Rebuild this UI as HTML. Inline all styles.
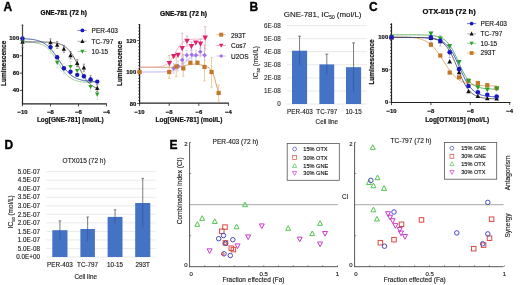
<!DOCTYPE html>
<html><head><meta charset="utf-8"><style>
html,body{margin:0;padding:0;background:#fff;}
body{width:520px;height:285px;overflow:hidden;}
svg{display:block;font-family:"Liberation Sans", sans-serif;will-change:transform;filter:blur(0.5px);}
</style></head><body>
<svg width="520" height="285" viewBox="0 0 520 285">
<rect width="520" height="285" fill="#fff"/>
<text x="3.4" y="10.9" font-size="12" font-weight="bold" fill="#000" stroke="#000" stroke-width="0.35">A</text>
<text x="249.6" y="11.1" font-size="12" font-weight="bold" fill="#000" stroke="#000" stroke-width="0.35">B</text>
<text x="369.0" y="11.2" font-size="12" font-weight="bold" fill="#000" stroke="#000" stroke-width="0.35">C</text>
<text x="4.6" y="149.1" font-size="12" font-weight="bold" fill="#000" stroke="#000" stroke-width="0.35">D</text>
<text x="169.6" y="148.9" font-size="12" font-weight="bold" fill="#000" stroke="#000" stroke-width="0.35">E</text>
<text x="40.60" y="15.30" font-size="6.5" font-weight="bold" text-anchor="start" fill="#000" stroke="#000" stroke-width="0.2">GNE-781 (72 h)</text>
<line x1="22.50" y1="24.50" x2="22.50" y2="104.40" stroke="#222" stroke-width="1.2"/>
<line x1="21.90" y1="103.80" x2="106.80" y2="103.80" stroke="#222" stroke-width="1.2"/>
<line x1="19.80" y1="38.40" x2="22.50" y2="38.40" stroke="#222" stroke-width="0.8"/>
<text x="19.20" y="40.40" font-size="5.9" font-weight="bold" text-anchor="end" fill="#111" stroke="#111" stroke-width="0.2">100</text>
<line x1="19.80" y1="55.75" x2="22.50" y2="55.75" stroke="#222" stroke-width="0.8"/>
<text x="19.20" y="57.75" font-size="5.9" font-weight="bold" text-anchor="end" fill="#111" stroke="#111" stroke-width="0.2">80</text>
<line x1="19.80" y1="73.10" x2="22.50" y2="73.10" stroke="#222" stroke-width="0.8"/>
<text x="19.20" y="75.10" font-size="5.9" font-weight="bold" text-anchor="end" fill="#111" stroke="#111" stroke-width="0.2">60</text>
<line x1="19.80" y1="90.45" x2="22.50" y2="90.45" stroke="#222" stroke-width="0.8"/>
<text x="19.20" y="92.45" font-size="5.9" font-weight="bold" text-anchor="end" fill="#111" stroke="#111" stroke-width="0.2">40</text>
<line x1="22.50" y1="103.80" x2="22.50" y2="106.40" stroke="#222" stroke-width="0.8"/>
<text x="22.50" y="114.20" font-size="5.9" font-weight="bold" text-anchor="middle" fill="#111" stroke="#111" stroke-width="0.2">−10</text>
<line x1="50.50" y1="103.80" x2="50.50" y2="106.40" stroke="#222" stroke-width="0.8"/>
<text x="50.50" y="114.20" font-size="5.9" font-weight="bold" text-anchor="middle" fill="#111" stroke="#111" stroke-width="0.2">−8</text>
<line x1="78.50" y1="103.80" x2="78.50" y2="106.40" stroke="#222" stroke-width="0.8"/>
<text x="78.50" y="114.20" font-size="5.9" font-weight="bold" text-anchor="middle" fill="#111" stroke="#111" stroke-width="0.2">−6</text>
<line x1="106.50" y1="103.80" x2="106.50" y2="106.40" stroke="#222" stroke-width="0.8"/>
<text x="106.50" y="114.20" font-size="5.9" font-weight="bold" text-anchor="middle" fill="#111" stroke="#111" stroke-width="0.2">−4</text>
<text x="70.30" y="121.80" font-size="6.5" font-weight="bold" text-anchor="middle" fill="#111" stroke="#111" stroke-width="0.2">Log[GNE-781] (mol/L)</text>
<text x="5.80" y="63.30" font-size="6.5" font-weight="bold" text-anchor="middle" fill="#111" stroke="#111" stroke-width="0.2" transform="rotate(-90 5.8 63.3)">Luminescence</text>
<path d="M22.50,41.99 L23.43,42.01 L24.37,42.03 L25.30,42.06 L26.24,42.09 L27.17,42.13 L28.11,42.17 L29.04,42.22 L29.98,42.28 L30.91,42.34 L31.85,42.42 L32.78,42.51 L33.71,42.62 L34.65,42.74 L35.58,42.88 L36.52,43.04 L37.45,43.23 L38.39,43.45 L39.32,43.70 L40.26,43.99 L41.19,44.32 L42.12,44.69 L43.06,45.13 L43.99,45.62 L44.93,46.17 L45.86,46.80 L46.80,47.51 L47.73,48.30 L48.67,49.18 L49.60,50.14 L50.53,51.20 L51.47,52.35 L52.40,53.59 L53.34,54.92 L54.27,56.32 L55.21,57.78 L56.14,59.30 L57.08,60.84 L58.01,62.41 L58.95,63.97 L59.88,65.51 L60.81,67.02 L61.75,68.47 L62.68,69.86 L63.62,71.17 L64.55,72.39 L65.49,73.52 L66.42,74.57 L67.36,75.52 L68.29,76.37 L69.23,77.15 L70.16,77.84 L71.09,78.45 L72.03,79.00 L72.96,79.47 L73.90,79.90 L74.83,80.26 L75.77,80.59 L76.70,80.87 L77.64,81.11 L78.57,81.32 L79.50,81.50 L80.44,81.66 L81.37,81.80 L82.31,81.92 L83.24,82.02 L84.18,82.11 L85.11,82.18 L86.05,82.25 L86.98,82.30 L87.92,82.35 L88.85,82.39 L89.78,82.43 L90.72,82.46 L91.65,82.48 L92.59,82.51 L93.52,82.53 L94.46,82.54 L95.39,82.56 L96.33,82.57 L97.26,82.58" fill="none" stroke="#8cc08c" stroke-width="0.8"/>
<path d="M22.50,41.87 L23.43,41.88 L24.37,41.88 L25.30,41.88 L26.24,41.88 L27.17,41.88 L28.11,41.88 L29.04,41.88 L29.98,41.89 L30.91,41.89 L31.85,41.89 L32.78,41.90 L33.71,41.90 L34.65,41.91 L35.58,41.91 L36.52,41.92 L37.45,41.93 L38.39,41.94 L39.32,41.95 L40.26,41.96 L41.19,41.97 L42.12,41.99 L43.06,42.01 L43.99,42.04 L44.93,42.06 L45.86,42.10 L46.80,42.13 L47.73,42.18 L48.67,42.23 L49.60,42.29 L50.53,42.35 L51.47,42.43 L52.40,42.53 L53.34,42.63 L54.27,42.76 L55.21,42.90 L56.14,43.07 L57.08,43.26 L58.01,43.49 L58.95,43.74 L59.88,44.04 L60.81,44.38 L61.75,44.78 L62.68,45.22 L63.62,45.74 L64.55,46.32 L65.49,46.98 L66.42,47.73 L67.36,48.57 L68.29,49.51 L69.23,50.55 L70.16,51.70 L71.09,52.96 L72.03,54.33 L72.96,55.81 L73.90,57.38 L74.83,59.05 L75.77,60.79 L76.70,62.59 L77.64,64.44 L78.57,66.30 L79.50,68.16 L80.44,70.00 L81.37,71.80 L82.31,73.53 L83.24,75.18 L84.18,76.74 L85.11,78.20 L86.05,79.56 L86.98,80.80 L87.92,81.93 L88.85,82.96 L89.78,83.88 L90.72,84.71 L91.65,85.44 L92.59,86.09 L93.52,86.66 L94.46,87.17 L95.39,87.61 L96.33,87.99 L97.26,88.33" fill="none" stroke="#444" stroke-width="0.8"/>
<path d="M22.50,38.67 L23.43,38.70 L24.37,38.74 L25.30,38.79 L26.24,38.85 L27.17,38.91 L28.11,38.98 L29.04,39.06 L29.98,39.15 L30.91,39.25 L31.85,39.37 L32.78,39.50 L33.71,39.65 L34.65,39.81 L35.58,40.00 L36.52,40.22 L37.45,40.46 L38.39,40.73 L39.32,41.04 L40.26,41.38 L41.19,41.76 L42.12,42.19 L43.06,42.67 L43.99,43.20 L44.93,43.79 L45.86,44.43 L46.80,45.15 L47.73,45.92 L48.67,46.77 L49.60,47.69 L50.53,48.68 L51.47,49.74 L52.40,50.87 L53.34,52.06 L54.27,53.31 L55.21,54.61 L56.14,55.96 L57.08,57.34 L58.01,58.74 L58.95,60.16 L59.88,61.57 L60.81,62.97 L61.75,64.35 L62.68,65.69 L63.62,66.99 L64.55,68.24 L65.49,69.42 L66.42,70.54 L67.36,71.60 L68.29,72.58 L69.23,73.49 L70.16,74.33 L71.09,75.10 L72.03,75.81 L72.96,76.45 L73.90,77.03 L74.83,77.55 L75.77,78.03 L76.70,78.45 L77.64,78.83 L78.57,79.17 L79.50,79.47 L80.44,79.74 L81.37,79.98 L82.31,80.19 L83.24,80.38 L84.18,80.54 L85.11,80.69 L86.05,80.82 L86.98,80.94 L87.92,81.04 L88.85,81.13 L89.78,81.20 L90.72,81.27 L91.65,81.33 L92.59,81.39 L93.52,81.43 L94.46,81.48 L95.39,81.51 L96.33,81.54 L97.26,81.57" fill="none" stroke="#34509a" stroke-width="0.9"/>
<line x1="50.50" y1="42.74" x2="50.50" y2="53.15" stroke="#b5dcb5" stroke-width="0.5"/>
<line x1="49.30" y1="42.74" x2="51.70" y2="42.74" stroke="#b5dcb5" stroke-width="0.5"/>
<line x1="49.30" y1="53.15" x2="51.70" y2="53.15" stroke="#b5dcb5" stroke-width="0.5"/>
<line x1="50.50" y1="38.83" x2="50.50" y2="45.77" stroke="#444" stroke-width="0.5"/>
<line x1="49.30" y1="38.83" x2="51.70" y2="38.83" stroke="#444" stroke-width="0.5"/>
<line x1="49.30" y1="45.77" x2="51.70" y2="45.77" stroke="#444" stroke-width="0.5"/>
<line x1="57.18" y1="57.48" x2="57.18" y2="67.89" stroke="#b5dcb5" stroke-width="0.5"/>
<line x1="55.98" y1="57.48" x2="58.38" y2="57.48" stroke="#b5dcb5" stroke-width="0.5"/>
<line x1="55.98" y1="67.89" x2="58.38" y2="67.89" stroke="#b5dcb5" stroke-width="0.5"/>
<line x1="57.18" y1="41.44" x2="57.18" y2="48.38" stroke="#444" stroke-width="0.5"/>
<line x1="55.98" y1="41.44" x2="58.38" y2="41.44" stroke="#444" stroke-width="0.5"/>
<line x1="55.98" y1="48.38" x2="58.38" y2="48.38" stroke="#444" stroke-width="0.5"/>
<line x1="63.86" y1="63.56" x2="63.86" y2="73.97" stroke="#b5dcb5" stroke-width="0.5"/>
<line x1="62.66" y1="63.56" x2="65.06" y2="63.56" stroke="#b5dcb5" stroke-width="0.5"/>
<line x1="62.66" y1="73.97" x2="65.06" y2="73.97" stroke="#b5dcb5" stroke-width="0.5"/>
<line x1="63.86" y1="45.34" x2="63.86" y2="52.28" stroke="#444" stroke-width="0.5"/>
<line x1="62.66" y1="45.34" x2="65.06" y2="45.34" stroke="#444" stroke-width="0.5"/>
<line x1="62.66" y1="52.28" x2="65.06" y2="52.28" stroke="#444" stroke-width="0.5"/>
<line x1="70.53" y1="61.56" x2="70.53" y2="71.97" stroke="#b5dcb5" stroke-width="0.5"/>
<line x1="69.33" y1="61.56" x2="71.73" y2="61.56" stroke="#b5dcb5" stroke-width="0.5"/>
<line x1="69.33" y1="71.97" x2="71.73" y2="71.97" stroke="#b5dcb5" stroke-width="0.5"/>
<line x1="70.53" y1="51.85" x2="70.53" y2="58.79" stroke="#444" stroke-width="0.5"/>
<line x1="69.33" y1="51.85" x2="71.73" y2="51.85" stroke="#444" stroke-width="0.5"/>
<line x1="69.33" y1="58.79" x2="71.73" y2="58.79" stroke="#444" stroke-width="0.5"/>
<line x1="77.21" y1="65.55" x2="77.21" y2="75.96" stroke="#b5dcb5" stroke-width="0.5"/>
<line x1="76.01" y1="65.55" x2="78.41" y2="65.55" stroke="#b5dcb5" stroke-width="0.5"/>
<line x1="76.01" y1="75.96" x2="78.41" y2="75.96" stroke="#b5dcb5" stroke-width="0.5"/>
<line x1="77.21" y1="59.65" x2="77.21" y2="66.59" stroke="#444" stroke-width="0.5"/>
<line x1="76.01" y1="59.65" x2="78.41" y2="59.65" stroke="#444" stroke-width="0.5"/>
<line x1="76.01" y1="66.59" x2="78.41" y2="66.59" stroke="#444" stroke-width="0.5"/>
<line x1="83.89" y1="71.37" x2="83.89" y2="81.78" stroke="#b5dcb5" stroke-width="0.5"/>
<line x1="82.69" y1="71.37" x2="85.09" y2="71.37" stroke="#b5dcb5" stroke-width="0.5"/>
<line x1="82.69" y1="81.78" x2="85.09" y2="81.78" stroke="#b5dcb5" stroke-width="0.5"/>
<line x1="83.89" y1="64.16" x2="83.89" y2="71.10" stroke="#444" stroke-width="0.5"/>
<line x1="82.69" y1="64.16" x2="85.09" y2="64.16" stroke="#444" stroke-width="0.5"/>
<line x1="82.69" y1="71.10" x2="85.09" y2="71.10" stroke="#444" stroke-width="0.5"/>
<line x1="90.57" y1="81.51" x2="90.57" y2="91.92" stroke="#b5dcb5" stroke-width="0.5"/>
<line x1="89.37" y1="81.51" x2="91.77" y2="81.51" stroke="#b5dcb5" stroke-width="0.5"/>
<line x1="89.37" y1="91.92" x2="91.77" y2="91.92" stroke="#b5dcb5" stroke-width="0.5"/>
<line x1="90.57" y1="75.70" x2="90.57" y2="82.64" stroke="#444" stroke-width="0.5"/>
<line x1="89.37" y1="75.70" x2="91.77" y2="75.70" stroke="#444" stroke-width="0.5"/>
<line x1="89.37" y1="82.64" x2="91.77" y2="82.64" stroke="#444" stroke-width="0.5"/>
<line x1="97.25" y1="89.15" x2="97.25" y2="99.56" stroke="#b5dcb5" stroke-width="0.5"/>
<line x1="96.05" y1="89.15" x2="98.45" y2="89.15" stroke="#b5dcb5" stroke-width="0.5"/>
<line x1="96.05" y1="99.56" x2="98.45" y2="99.56" stroke="#b5dcb5" stroke-width="0.5"/>
<line x1="97.25" y1="84.64" x2="97.25" y2="91.58" stroke="#444" stroke-width="0.5"/>
<line x1="96.05" y1="84.64" x2="98.45" y2="84.64" stroke="#444" stroke-width="0.5"/>
<line x1="96.05" y1="91.58" x2="98.45" y2="91.58" stroke="#444" stroke-width="0.5"/>
<path d="M22.50,44.17 L24.70,40.03 L20.30,40.03Z" fill="#2aa02a" stroke="none" stroke-width="0.7"/>
<path d="M50.50,50.24 L52.70,46.10 L48.30,46.10Z" fill="#2aa02a" stroke="none" stroke-width="0.7"/>
<path d="M57.18,64.99 L59.38,60.85 L54.98,60.85Z" fill="#2aa02a" stroke="none" stroke-width="0.7"/>
<path d="M63.86,71.06 L66.06,66.92 L61.66,66.92Z" fill="#2aa02a" stroke="none" stroke-width="0.7"/>
<path d="M70.53,69.07 L72.73,64.93 L68.33,64.93Z" fill="#2aa02a" stroke="none" stroke-width="0.7"/>
<path d="M77.21,73.06 L79.41,68.92 L75.01,68.92Z" fill="#2aa02a" stroke="none" stroke-width="0.7"/>
<path d="M83.89,78.87 L86.09,74.73 L81.69,74.73Z" fill="#2aa02a" stroke="none" stroke-width="0.7"/>
<path d="M90.57,89.02 L92.77,84.88 L88.37,84.88Z" fill="#2aa02a" stroke="none" stroke-width="0.7"/>
<path d="M97.25,96.65 L99.45,92.51 L95.05,92.51Z" fill="#2aa02a" stroke="none" stroke-width="0.7"/>
<path d="M22.50,39.57 L24.70,43.71 L20.30,43.71Z" fill="#111" stroke="none" stroke-width="0.7"/>
<path d="M50.50,40.00 L52.70,44.14 L48.30,44.14Z" fill="#111" stroke="none" stroke-width="0.7"/>
<path d="M57.18,42.61 L59.38,46.75 L54.98,46.75Z" fill="#111" stroke="none" stroke-width="0.7"/>
<path d="M63.86,46.51 L66.06,50.65 L61.66,50.65Z" fill="#111" stroke="none" stroke-width="0.7"/>
<path d="M70.53,53.02 L72.73,57.16 L68.33,57.16Z" fill="#111" stroke="none" stroke-width="0.7"/>
<path d="M77.21,60.82 L79.41,64.96 L75.01,64.96Z" fill="#111" stroke="none" stroke-width="0.7"/>
<path d="M83.89,65.33 L86.09,69.47 L81.69,69.47Z" fill="#111" stroke="none" stroke-width="0.7"/>
<path d="M90.57,76.87 L92.77,81.01 L88.37,81.01Z" fill="#111" stroke="none" stroke-width="0.7"/>
<path d="M97.25,85.81 L99.45,89.95 L95.05,89.95Z" fill="#111" stroke="none" stroke-width="0.7"/>
<circle cx="22.50" cy="38.40" r="2.2" fill="#1818c0" stroke="none" stroke-width="0.7"/>
<circle cx="50.50" cy="47.08" r="2.2" fill="#1818c0" stroke="none" stroke-width="0.7"/>
<circle cx="57.18" cy="57.22" r="2.2" fill="#1818c0" stroke="none" stroke-width="0.7"/>
<circle cx="63.86" cy="68.24" r="2.2" fill="#1818c0" stroke="none" stroke-width="0.7"/>
<circle cx="70.53" cy="71.71" r="2.2" fill="#1818c0" stroke="none" stroke-width="0.7"/>
<circle cx="77.21" cy="74.84" r="2.2" fill="#1818c0" stroke="none" stroke-width="0.7"/>
<circle cx="83.89" cy="76.31" r="2.2" fill="#1818c0" stroke="none" stroke-width="0.7"/>
<circle cx="90.57" cy="79.52" r="2.2" fill="#1818c0" stroke="none" stroke-width="0.7"/>
<circle cx="97.25" cy="81.60" r="2.2" fill="#1818c0" stroke="none" stroke-width="0.7"/>
<line x1="22.50" y1="25.40" x2="22.50" y2="47.20" stroke="#666" stroke-width="0.6"/>
<line x1="21.30" y1="25.40" x2="23.70" y2="25.40" stroke="#666" stroke-width="0.6"/>
<line x1="21.30" y1="47.20" x2="23.70" y2="47.20" stroke="#666" stroke-width="0.6"/>
<line x1="77.50" y1="30.40" x2="86.70" y2="30.40" stroke="#5560d0" stroke-width="0.8"/>
<circle cx="82.40" cy="30.40" r="1.9" fill="#1818c0" stroke="none" stroke-width="0.7"/>
<text x="91.60" y="32.70" font-size="6.5" text-anchor="start" fill="#111" stroke="#111" stroke-width="0.14">PER-403</text>
<line x1="77.50" y1="41.30" x2="86.70" y2="41.30" stroke="#999" stroke-width="0.8"/>
<path d="M82.40,39.11 L84.49,43.05 L80.31,43.05Z" fill="#111" stroke="none" stroke-width="0.7"/>
<text x="91.60" y="43.60" font-size="6.5" text-anchor="start" fill="#111" stroke="#111" stroke-width="0.14">TC-797</text>
<line x1="77.50" y1="51.50" x2="86.70" y2="51.50" stroke="#90d090" stroke-width="0.8"/>
<path d="M82.40,53.69 L84.49,49.75 L80.31,49.75Z" fill="#2aa02a" stroke="none" stroke-width="0.7"/>
<text x="91.60" y="53.80" font-size="6.5" text-anchor="start" fill="#111" stroke="#111" stroke-width="0.14">10-15</text>
<text x="160.00" y="15.70" font-size="6.6" font-weight="bold" text-anchor="start" fill="#000" stroke="#000" stroke-width="0.2">GNE-781 (72 h)</text>
<line x1="139.60" y1="24.00" x2="139.60" y2="103.70" stroke="#222" stroke-width="1.2"/>
<line x1="139.00" y1="103.10" x2="228.90" y2="103.10" stroke="#222" stroke-width="1.2"/>
<line x1="137.00" y1="103.50" x2="139.60" y2="103.50" stroke="#222" stroke-width="0.7"/>
<line x1="138.10" y1="100.35" x2="139.60" y2="100.35" stroke="#222" stroke-width="0.7"/>
<line x1="138.10" y1="97.20" x2="139.60" y2="97.20" stroke="#222" stroke-width="0.7"/>
<line x1="138.10" y1="94.05" x2="139.60" y2="94.05" stroke="#222" stroke-width="0.7"/>
<line x1="138.10" y1="90.90" x2="139.60" y2="90.90" stroke="#222" stroke-width="0.7"/>
<line x1="138.10" y1="87.75" x2="139.60" y2="87.75" stroke="#222" stroke-width="0.7"/>
<line x1="138.10" y1="84.60" x2="139.60" y2="84.60" stroke="#222" stroke-width="0.7"/>
<line x1="138.10" y1="81.45" x2="139.60" y2="81.45" stroke="#222" stroke-width="0.7"/>
<line x1="138.10" y1="78.30" x2="139.60" y2="78.30" stroke="#222" stroke-width="0.7"/>
<line x1="138.10" y1="75.15" x2="139.60" y2="75.15" stroke="#222" stroke-width="0.7"/>
<line x1="137.00" y1="72.00" x2="139.60" y2="72.00" stroke="#222" stroke-width="0.7"/>
<line x1="138.10" y1="68.85" x2="139.60" y2="68.85" stroke="#222" stroke-width="0.7"/>
<line x1="138.10" y1="65.70" x2="139.60" y2="65.70" stroke="#222" stroke-width="0.7"/>
<line x1="138.10" y1="62.55" x2="139.60" y2="62.55" stroke="#222" stroke-width="0.7"/>
<line x1="138.10" y1="59.40" x2="139.60" y2="59.40" stroke="#222" stroke-width="0.7"/>
<line x1="138.10" y1="56.25" x2="139.60" y2="56.25" stroke="#222" stroke-width="0.7"/>
<line x1="138.10" y1="53.10" x2="139.60" y2="53.10" stroke="#222" stroke-width="0.7"/>
<line x1="138.10" y1="49.95" x2="139.60" y2="49.95" stroke="#222" stroke-width="0.7"/>
<line x1="138.10" y1="46.80" x2="139.60" y2="46.80" stroke="#222" stroke-width="0.7"/>
<line x1="138.10" y1="43.65" x2="139.60" y2="43.65" stroke="#222" stroke-width="0.7"/>
<line x1="137.00" y1="40.50" x2="139.60" y2="40.50" stroke="#222" stroke-width="0.7"/>
<line x1="138.10" y1="37.35" x2="139.60" y2="37.35" stroke="#222" stroke-width="0.7"/>
<line x1="138.10" y1="34.20" x2="139.60" y2="34.20" stroke="#222" stroke-width="0.7"/>
<line x1="138.10" y1="31.05" x2="139.60" y2="31.05" stroke="#222" stroke-width="0.7"/>
<line x1="138.10" y1="27.90" x2="139.60" y2="27.90" stroke="#222" stroke-width="0.7"/>
<line x1="138.10" y1="24.75" x2="139.60" y2="24.75" stroke="#222" stroke-width="0.7"/>
<text x="136.20" y="42.50" font-size="5.9" font-weight="bold" text-anchor="end" fill="#111" stroke="#111" stroke-width="0.2">120</text>
<text x="136.20" y="74.00" font-size="5.9" font-weight="bold" text-anchor="end" fill="#111" stroke="#111" stroke-width="0.2">100</text>
<text x="136.20" y="105.50" font-size="5.9" font-weight="bold" text-anchor="end" fill="#111" stroke="#111" stroke-width="0.2">80</text>
<line x1="139.60" y1="103.40" x2="139.60" y2="106.00" stroke="#222" stroke-width="0.8"/>
<text x="139.60" y="113.80" font-size="5.9" font-weight="bold" text-anchor="middle" fill="#111" stroke="#111" stroke-width="0.2">−10</text>
<line x1="169.20" y1="103.40" x2="169.20" y2="106.00" stroke="#222" stroke-width="0.8"/>
<text x="169.20" y="113.80" font-size="5.9" font-weight="bold" text-anchor="middle" fill="#111" stroke="#111" stroke-width="0.2">−8</text>
<line x1="198.80" y1="103.40" x2="198.80" y2="106.00" stroke="#222" stroke-width="0.8"/>
<text x="198.80" y="113.80" font-size="5.9" font-weight="bold" text-anchor="middle" fill="#111" stroke="#111" stroke-width="0.2">−6</text>
<line x1="228.40" y1="103.40" x2="228.40" y2="106.00" stroke="#222" stroke-width="0.8"/>
<text x="228.40" y="113.80" font-size="5.9" font-weight="bold" text-anchor="middle" fill="#111" stroke="#111" stroke-width="0.2">−4</text>
<text x="189.00" y="122.30" font-size="6.5" font-weight="bold" text-anchor="middle" fill="#111" stroke="#111" stroke-width="0.2">Log[GNE-781] (mol/L)</text>
<text x="122.20" y="63.50" font-size="6.5" font-weight="bold" text-anchor="middle" fill="#111" stroke="#111" stroke-width="0.2" transform="rotate(-90 122.2 63.5)">Luminescence</text>
<path d="M139.60,67.27 L140.26,67.27 L140.92,67.27 L141.58,67.27 L142.23,67.27 L142.89,67.27 L143.55,67.27 L144.21,67.27 L144.87,67.27 L145.53,67.27 L146.19,67.27 L146.84,67.27 L147.50,67.27 L148.16,67.27 L148.82,67.27 L149.48,67.27 L150.14,67.27 L150.80,67.27 L151.45,67.27 L152.11,67.27 L152.77,67.27 L153.43,67.27 L154.09,67.27 L154.75,67.27 L155.41,67.27 L156.06,67.27 L156.72,67.27 L157.38,67.27 L158.04,67.27 L158.70,67.27 L159.36,67.27 L160.02,67.27 L160.68,67.27 L161.33,67.27 L161.99,67.27 L162.65,67.27 L163.31,67.27 L163.97,67.27 L164.63,67.27 L165.29,67.27 L165.94,67.27 L166.60,67.26 L167.26,67.26 L167.92,67.25 L168.58,67.25 L169.24,67.24 L169.90,67.23 L170.55,67.22 L171.21,67.21 L171.87,67.19 L172.53,67.17 L173.19,67.15 L173.85,67.12 L174.51,67.09 L175.16,67.05 L175.82,67.00 L176.48,66.95 L177.14,66.90 L177.80,66.83 L178.46,66.76 L179.12,66.67 L179.77,66.58 L180.43,66.49 L181.09,66.38 L181.75,66.26 L182.41,66.14 L183.07,66.01 L183.73,65.87 L184.38,65.73 L185.04,65.58 L185.70,65.43 L186.36,65.28 L187.02,65.13 L187.68,64.98 L188.34,64.84 L189.00,64.71 L189.65,64.59 L190.31,64.47 L190.97,64.37 L191.63,64.29 L192.29,64.22 L192.95,64.17 L193.61,64.14 L194.26,64.13 L194.92,64.13 L195.58,64.16 L196.24,64.21 L196.90,64.27 L197.56,64.35 L198.22,64.45 L198.87,64.56 L199.53,64.69 L200.19,64.82 L200.85,64.97 L201.51,65.13 L202.17,65.29 L202.83,65.46 L203.48,65.63 L204.14,65.82 L204.80,66.01 L205.46,66.22 L206.12,66.44 L206.78,66.68 L207.44,66.96 L208.09,67.29 L208.75,67.68 L209.41,68.16 L210.07,68.75 L210.73,69.49 L211.39,70.41 L212.05,71.55 L212.70,72.95 L213.36,74.63 L214.02,76.58 L214.68,78.77 L215.34,81.13 L216.00,83.57 L216.66,85.97 L217.31,88.23 L217.97,90.28 L218.63,92.05" fill="none" stroke="#d09050" stroke-width="0.9"/>
<path d="M139.60,72.00 L140.42,72.00 L141.24,72.00 L142.06,72.00 L142.89,72.00 L143.71,72.00 L144.53,72.00 L145.35,72.00 L146.17,72.00 L146.99,72.00 L147.81,72.00 L148.64,72.00 L149.46,71.99 L150.28,71.99 L151.10,71.99 L151.92,71.99 L152.74,71.99 L153.56,71.99 L154.39,71.98 L155.21,71.98 L156.03,71.97 L156.85,71.97 L157.67,71.96 L158.49,71.96 L159.31,71.95 L160.13,71.93 L160.96,71.92 L161.78,71.90 L162.60,71.88 L163.42,71.86 L164.24,71.83 L165.06,71.79 L165.88,71.75 L166.71,71.70 L167.53,71.64 L168.35,71.56 L169.17,71.47 L169.99,71.37 L170.81,71.24 L171.63,71.08 L172.46,70.90 L173.28,70.69 L174.10,70.44 L174.92,70.14 L175.74,69.80 L176.56,69.40 L177.38,68.95 L178.21,68.44 L179.03,67.87 L179.85,67.23 L180.67,66.54 L181.49,65.80 L182.31,65.02 L183.13,64.21 L183.96,63.38 L184.78,62.55 L185.60,61.74 L186.42,60.95 L187.24,60.21 L188.06,59.51 L188.88,58.87 L189.71,58.29 L190.53,57.78 L191.35,57.32 L192.17,56.92 L192.99,56.57 L193.81,56.27 L194.63,56.01 L195.46,55.79 L196.28,55.61 L197.10,55.45 L197.92,55.32 L198.74,55.21 L199.56,55.12 L200.38,55.05 L201.21,54.98 L202.03,54.93 L202.85,54.89 L203.67,54.85 L204.49,54.82 L205.31,54.79" fill="none" stroke="#b898e8" stroke-width="0.8"/>
<path d="M139.60,67.27 L140.42,67.27 L141.25,67.27 L142.07,67.27 L142.89,67.27 L143.72,67.26 L144.54,67.26 L145.36,67.26 L146.19,67.25 L147.01,67.25 L147.83,67.24 L148.66,67.24 L149.48,67.23 L150.30,67.22 L151.13,67.20 L151.95,67.19 L152.77,67.17 L153.60,67.14 L154.42,67.11 L155.24,67.08 L156.06,67.03 L156.89,66.98 L157.71,66.91 L158.53,66.83 L159.36,66.73 L160.18,66.60 L161.00,66.46 L161.83,66.28 L162.65,66.06 L163.47,65.79 L164.30,65.48 L165.12,65.10 L165.94,64.65 L166.77,64.12 L167.59,63.50 L168.41,62.78 L169.24,61.95 L170.06,61.01 L170.88,59.95 L171.71,58.78 L172.53,57.52 L173.35,56.17 L174.18,54.76 L175.00,53.31 L175.82,51.86 L176.65,50.44 L177.47,49.07 L178.29,47.78 L179.12,46.58 L179.94,45.49 L180.76,44.51 L181.59,43.65 L182.41,42.90 L183.23,42.25 L184.06,41.69 L184.88,41.22 L185.70,40.82 L186.53,40.49 L187.35,40.21 L188.17,39.98 L189.00,39.79 L189.82,39.64 L190.64,39.51 L191.46,39.40 L192.29,39.31 L193.11,39.24 L193.93,39.18 L194.76,39.14 L195.58,39.10 L196.40,39.07 L197.23,39.04 L198.05,39.02 L198.87,39.00 L199.70,38.99 L200.52,38.98 L201.34,38.97 L202.17,38.96 L202.99,38.95 L203.81,38.95 L204.64,38.94 L205.46,38.94" fill="none" stroke="#e8a0b8" stroke-width="0.8"/>
<line x1="169.20" y1="55.50" x2="169.20" y2="78.30" stroke="#e0a860" stroke-width="0.6"/>
<line x1="168.00" y1="55.50" x2="170.40" y2="55.50" stroke="#e0a860" stroke-width="0.6"/>
<line x1="168.00" y1="78.30" x2="170.40" y2="78.30" stroke="#e0a860" stroke-width="0.6"/>
<line x1="176.26" y1="57.00" x2="176.26" y2="76.60" stroke="#e0a860" stroke-width="0.6"/>
<line x1="175.06" y1="57.00" x2="177.46" y2="57.00" stroke="#e0a860" stroke-width="0.6"/>
<line x1="175.06" y1="76.60" x2="177.46" y2="76.60" stroke="#e0a860" stroke-width="0.6"/>
<line x1="183.32" y1="54.50" x2="183.32" y2="76.20" stroke="#e0a860" stroke-width="0.6"/>
<line x1="182.12" y1="54.50" x2="184.52" y2="54.50" stroke="#e0a860" stroke-width="0.6"/>
<line x1="182.12" y1="76.20" x2="184.52" y2="76.20" stroke="#e0a860" stroke-width="0.6"/>
<line x1="204.50" y1="45.00" x2="204.50" y2="80.90" stroke="#e0a860" stroke-width="0.6"/>
<line x1="203.30" y1="45.00" x2="205.70" y2="45.00" stroke="#e0a860" stroke-width="0.6"/>
<line x1="203.30" y1="80.90" x2="205.70" y2="80.90" stroke="#e0a860" stroke-width="0.6"/>
<line x1="211.56" y1="57.70" x2="211.56" y2="87.20" stroke="#e0a860" stroke-width="0.6"/>
<line x1="210.36" y1="57.70" x2="212.76" y2="57.70" stroke="#e0a860" stroke-width="0.6"/>
<line x1="210.36" y1="87.20" x2="212.76" y2="87.20" stroke="#e0a860" stroke-width="0.6"/>
<line x1="218.62" y1="85.00" x2="218.62" y2="100.90" stroke="#e0a860" stroke-width="0.6"/>
<line x1="217.42" y1="85.00" x2="219.82" y2="85.00" stroke="#e0a860" stroke-width="0.6"/>
<line x1="217.42" y1="100.90" x2="219.82" y2="100.90" stroke="#e0a860" stroke-width="0.6"/>
<line x1="182.20" y1="33.20" x2="182.20" y2="63.60" stroke="#c898a8" stroke-width="0.6"/>
<line x1="180.90" y1="33.20" x2="183.50" y2="33.20" stroke="#c898a8" stroke-width="0.6"/>
<line x1="180.90" y1="63.60" x2="183.50" y2="63.60" stroke="#c898a8" stroke-width="0.6"/>
<line x1="187.00" y1="36.00" x2="187.00" y2="46.20" stroke="#c898a8" stroke-width="0.6"/>
<line x1="185.70" y1="36.00" x2="188.30" y2="36.00" stroke="#c898a8" stroke-width="0.6"/>
<line x1="185.70" y1="46.20" x2="188.30" y2="46.20" stroke="#c898a8" stroke-width="0.6"/>
<line x1="191.40" y1="42.00" x2="191.40" y2="50.80" stroke="#c898a8" stroke-width="0.6"/>
<line x1="190.10" y1="42.00" x2="192.70" y2="42.00" stroke="#c898a8" stroke-width="0.6"/>
<line x1="190.10" y1="50.80" x2="192.70" y2="50.80" stroke="#c898a8" stroke-width="0.6"/>
<line x1="200.50" y1="39.60" x2="200.50" y2="48.20" stroke="#c898a8" stroke-width="0.6"/>
<line x1="199.20" y1="39.60" x2="201.80" y2="39.60" stroke="#c898a8" stroke-width="0.6"/>
<line x1="199.20" y1="48.20" x2="201.80" y2="48.20" stroke="#c898a8" stroke-width="0.6"/>
<line x1="205.20" y1="26.70" x2="205.20" y2="48.90" stroke="#c898a8" stroke-width="0.6"/>
<line x1="203.90" y1="26.70" x2="206.50" y2="26.70" stroke="#c898a8" stroke-width="0.6"/>
<line x1="203.90" y1="48.90" x2="206.50" y2="48.90" stroke="#c898a8" stroke-width="0.6"/>
<line x1="173.70" y1="63.30" x2="173.70" y2="73.30" stroke="#c0a8f0" stroke-width="0.5"/>
<line x1="172.70" y1="63.30" x2="174.70" y2="63.30" stroke="#c0a8f0" stroke-width="0.5"/>
<line x1="172.70" y1="73.30" x2="174.70" y2="73.30" stroke="#c0a8f0" stroke-width="0.5"/>
<line x1="178.00" y1="61.00" x2="178.00" y2="71.00" stroke="#c0a8f0" stroke-width="0.5"/>
<line x1="177.00" y1="61.00" x2="179.00" y2="61.00" stroke="#c0a8f0" stroke-width="0.5"/>
<line x1="177.00" y1="71.00" x2="179.00" y2="71.00" stroke="#c0a8f0" stroke-width="0.5"/>
<line x1="182.20" y1="55.00" x2="182.20" y2="65.00" stroke="#c0a8f0" stroke-width="0.5"/>
<line x1="181.20" y1="55.00" x2="183.20" y2="55.00" stroke="#c0a8f0" stroke-width="0.5"/>
<line x1="181.20" y1="65.00" x2="183.20" y2="65.00" stroke="#c0a8f0" stroke-width="0.5"/>
<line x1="186.80" y1="50.30" x2="186.80" y2="60.30" stroke="#c0a8f0" stroke-width="0.5"/>
<line x1="185.80" y1="50.30" x2="187.80" y2="50.30" stroke="#c0a8f0" stroke-width="0.5"/>
<line x1="185.80" y1="60.30" x2="187.80" y2="60.30" stroke="#c0a8f0" stroke-width="0.5"/>
<line x1="191.70" y1="49.70" x2="191.70" y2="59.70" stroke="#c0a8f0" stroke-width="0.5"/>
<line x1="190.70" y1="49.70" x2="192.70" y2="49.70" stroke="#c0a8f0" stroke-width="0.5"/>
<line x1="190.70" y1="59.70" x2="192.70" y2="59.70" stroke="#c0a8f0" stroke-width="0.5"/>
<line x1="196.00" y1="50.30" x2="196.00" y2="60.30" stroke="#c0a8f0" stroke-width="0.5"/>
<line x1="195.00" y1="50.30" x2="197.00" y2="50.30" stroke="#c0a8f0" stroke-width="0.5"/>
<line x1="195.00" y1="60.30" x2="197.00" y2="60.30" stroke="#c0a8f0" stroke-width="0.5"/>
<line x1="200.30" y1="46.70" x2="200.30" y2="56.70" stroke="#c0a8f0" stroke-width="0.5"/>
<line x1="199.30" y1="46.70" x2="201.30" y2="46.70" stroke="#c0a8f0" stroke-width="0.5"/>
<line x1="199.30" y1="56.70" x2="201.30" y2="56.70" stroke="#c0a8f0" stroke-width="0.5"/>
<line x1="204.60" y1="50.30" x2="204.60" y2="60.30" stroke="#c0a8f0" stroke-width="0.5"/>
<line x1="203.60" y1="50.30" x2="205.60" y2="50.30" stroke="#c0a8f0" stroke-width="0.5"/>
<line x1="203.60" y1="60.30" x2="205.60" y2="60.30" stroke="#c0a8f0" stroke-width="0.5"/>
<path d="M173.70,66.00 L176.00,68.30 L173.70,70.60 L171.40,68.30Z" fill="#a070e8" stroke="none" stroke-width="0.7"/>
<path d="M178.00,63.70 L180.30,66.00 L178.00,68.30 L175.70,66.00Z" fill="#a070e8" stroke="none" stroke-width="0.7"/>
<path d="M182.20,57.70 L184.50,60.00 L182.20,62.30 L179.90,60.00Z" fill="#a070e8" stroke="none" stroke-width="0.7"/>
<path d="M186.80,53.00 L189.10,55.30 L186.80,57.60 L184.50,55.30Z" fill="#a070e8" stroke="none" stroke-width="0.7"/>
<path d="M191.70,52.40 L194.00,54.70 L191.70,57.00 L189.40,54.70Z" fill="#a070e8" stroke="none" stroke-width="0.7"/>
<path d="M196.00,53.00 L198.30,55.30 L196.00,57.60 L193.70,55.30Z" fill="#a070e8" stroke="none" stroke-width="0.7"/>
<path d="M200.30,49.40 L202.60,51.70 L200.30,54.00 L198.00,51.70Z" fill="#a070e8" stroke="none" stroke-width="0.7"/>
<path d="M204.60,53.00 L206.90,55.30 L204.60,57.60 L202.30,55.30Z" fill="#a070e8" stroke="none" stroke-width="0.7"/>
<rect x="137.50" y="69.90" width="4.20" height="4.20" fill="#c07828" stroke="none" stroke-width="0.7"/>
<rect x="167.10" y="69.90" width="4.20" height="4.20" fill="#c07828" stroke="none" stroke-width="0.7"/>
<rect x="174.16" y="64.39" width="4.20" height="4.20" fill="#c07828" stroke="none" stroke-width="0.7"/>
<rect x="181.22" y="66.28" width="4.20" height="4.20" fill="#c07828" stroke="none" stroke-width="0.7"/>
<rect x="188.28" y="60.61" width="4.20" height="4.20" fill="#c07828" stroke="none" stroke-width="0.7"/>
<rect x="195.34" y="60.61" width="4.20" height="4.20" fill="#c07828" stroke="none" stroke-width="0.7"/>
<rect x="202.40" y="64.86" width="4.20" height="4.20" fill="#c07828" stroke="none" stroke-width="0.7"/>
<rect x="209.46" y="69.90" width="4.20" height="4.20" fill="#c07828" stroke="none" stroke-width="0.7"/>
<rect x="216.52" y="90.85" width="4.20" height="4.20" fill="#c07828" stroke="none" stroke-width="0.7"/>
<path d="M169.40,66.28 L172.15,61.10 L166.65,61.10Z" fill="#e0206a" stroke="none" stroke-width="0.7"/>
<path d="M173.70,59.17 L176.45,54.00 L170.95,54.00Z" fill="#e0206a" stroke="none" stroke-width="0.7"/>
<path d="M178.00,57.88 L180.75,52.70 L175.25,52.70Z" fill="#e0206a" stroke="none" stroke-width="0.7"/>
<path d="M182.20,51.27 L184.95,46.10 L179.45,46.10Z" fill="#e0206a" stroke="none" stroke-width="0.7"/>
<path d="M187.00,43.98 L189.75,38.80 L184.25,38.80Z" fill="#e0206a" stroke="none" stroke-width="0.7"/>
<path d="M191.40,49.27 L194.15,44.10 L188.65,44.10Z" fill="#e0206a" stroke="none" stroke-width="0.7"/>
<path d="M195.80,45.58 L198.55,40.40 L193.05,40.40Z" fill="#e0206a" stroke="none" stroke-width="0.7"/>
<path d="M200.50,46.77 L203.25,41.60 L197.75,41.60Z" fill="#e0206a" stroke="none" stroke-width="0.7"/>
<path d="M205.20,40.67 L207.95,35.50 L202.45,35.50Z" fill="#e0206a" stroke="none" stroke-width="0.7"/>
<line x1="216.50" y1="34.70" x2="225.80" y2="34.70" stroke="#e0b080" stroke-width="0.8"/>
<rect x="219.20" y="32.70" width="4.00" height="4.00" fill="#c8782a" stroke="none" stroke-width="0.7"/>
<text x="231.00" y="37.50" font-size="6.5" text-anchor="start" fill="#111" stroke="#111" stroke-width="0.14">293T</text>
<line x1="216.50" y1="45.50" x2="225.80" y2="45.50" stroke="#f090b0" stroke-width="0.8"/>
<path d="M221.20,47.80 L223.40,43.66 L219.00,43.66Z" fill="#e0206a" stroke="none" stroke-width="0.7"/>
<text x="231.00" y="48.30" font-size="6.5" text-anchor="start" fill="#111" stroke="#111" stroke-width="0.14">Cos7</text>
<line x1="216.50" y1="56.00" x2="225.80" y2="56.00" stroke="#c8b0f0" stroke-width="0.8"/>
<path d="M221.20,54.00 L223.20,56.00 L221.20,58.00 L219.20,56.00Z" fill="#9a70e8" stroke="none" stroke-width="0.7"/>
<text x="231.00" y="58.80" font-size="6.5" text-anchor="start" fill="#111" stroke="#111" stroke-width="0.14">U2OS</text>
<text x="283.80" y="17.20" font-size="7.95" text-anchor="start" fill="#1a1a1a" stroke="#1a1a1a" stroke-width="0.14">GNE-781, IC<tspan font-size="4.8" dy="1.9">50</tspan><tspan dy="-1.9"> (mol/L)</tspan></text>
<line x1="287.00" y1="104.00" x2="367.00" y2="104.00" stroke="#e4e4e4" stroke-width="0.8"/>
<text x="280.80" y="106.20" font-size="6.3" text-anchor="end" fill="#333" stroke="#333" stroke-width="0.14">0</text>
<line x1="287.00" y1="90.92" x2="367.00" y2="90.92" stroke="#e4e4e4" stroke-width="0.8"/>
<text x="280.80" y="93.12" font-size="6.3" text-anchor="end" fill="#333" stroke="#333" stroke-width="0.14">1E-08</text>
<line x1="287.00" y1="77.84" x2="367.00" y2="77.84" stroke="#e4e4e4" stroke-width="0.8"/>
<text x="280.80" y="80.04" font-size="6.3" text-anchor="end" fill="#333" stroke="#333" stroke-width="0.14">2E-08</text>
<line x1="287.00" y1="64.76" x2="367.00" y2="64.76" stroke="#e4e4e4" stroke-width="0.8"/>
<text x="280.80" y="66.96" font-size="6.3" text-anchor="end" fill="#333" stroke="#333" stroke-width="0.14">3E-08</text>
<line x1="287.00" y1="51.68" x2="367.00" y2="51.68" stroke="#e4e4e4" stroke-width="0.8"/>
<text x="280.80" y="53.88" font-size="6.3" text-anchor="end" fill="#333" stroke="#333" stroke-width="0.14">4E-08</text>
<line x1="287.00" y1="38.60" x2="367.00" y2="38.60" stroke="#e4e4e4" stroke-width="0.8"/>
<text x="280.80" y="40.80" font-size="6.3" text-anchor="end" fill="#333" stroke="#333" stroke-width="0.14">5E-08</text>
<line x1="287.00" y1="25.52" x2="367.00" y2="25.52" stroke="#e4e4e4" stroke-width="0.8"/>
<text x="280.80" y="27.72" font-size="6.3" text-anchor="end" fill="#333" stroke="#333" stroke-width="0.14">6E-08</text>
<rect x="292.00" y="50.70" width="15.10" height="53.30" fill="#4472c4" stroke="none" stroke-width="1"/>
<line x1="299.55" y1="36.20" x2="299.55" y2="50.70" stroke="#505050" stroke-width="0.75"/>
<line x1="299.55" y1="50.70" x2="299.55" y2="65.20" stroke="#34589a" stroke-width="0.75"/>
<line x1="298.05" y1="36.20" x2="301.05" y2="36.20" stroke="#505050" stroke-width="0.7"/>
<rect x="319.40" y="64.40" width="14.80" height="39.60" fill="#4472c4" stroke="none" stroke-width="1"/>
<line x1="326.80" y1="54.10" x2="326.80" y2="64.40" stroke="#505050" stroke-width="0.75"/>
<line x1="326.80" y1="64.40" x2="326.80" y2="74.70" stroke="#34589a" stroke-width="0.75"/>
<line x1="325.30" y1="54.10" x2="328.30" y2="54.10" stroke="#505050" stroke-width="0.7"/>
<rect x="346.00" y="67.20" width="15.10" height="36.80" fill="#4472c4" stroke="none" stroke-width="1"/>
<line x1="353.55" y1="42.90" x2="353.55" y2="67.20" stroke="#505050" stroke-width="0.75"/>
<line x1="353.55" y1="67.20" x2="353.55" y2="91.50" stroke="#34589a" stroke-width="0.75"/>
<line x1="352.05" y1="42.90" x2="355.05" y2="42.90" stroke="#505050" stroke-width="0.7"/>
<text x="299.90" y="114.20" font-size="6.3" text-anchor="middle" fill="#222" stroke="#222" stroke-width="0.14">PER-403</text>
<text x="326.80" y="114.20" font-size="6.3" text-anchor="middle" fill="#222" stroke="#222" stroke-width="0.14">TC-797</text>
<text x="353.60" y="114.20" font-size="6.3" text-anchor="middle" fill="#222" stroke="#222" stroke-width="0.14">10-15</text>
<text x="326.80" y="123.50" font-size="6.3" text-anchor="middle" fill="#222" stroke="#222" stroke-width="0.14">Cell line</text>
<text x="258.40" y="62.50" font-size="6.5" text-anchor="middle" fill="#222" stroke="#222" stroke-width="0.14" transform="rotate(-90 258.4 62.5)">IC<tspan font-size="4.0" dy="1.5">50</tspan><tspan dy="-1.5"> (mol/L)</tspan></text>
<text x="422.60" y="14.10" font-size="7.6" font-weight="bold" text-anchor="start" fill="#000" stroke="#000" stroke-width="0.2">OTX-015 (72 h)</text>
<line x1="391.50" y1="23.30" x2="391.50" y2="103.10" stroke="#222" stroke-width="1.2"/>
<line x1="390.90" y1="102.50" x2="510.50" y2="102.50" stroke="#222" stroke-width="1.2"/>
<line x1="388.90" y1="102.20" x2="391.50" y2="102.20" stroke="#222" stroke-width="0.7"/>
<line x1="390.00" y1="98.96" x2="391.50" y2="98.96" stroke="#222" stroke-width="0.7"/>
<line x1="390.00" y1="95.72" x2="391.50" y2="95.72" stroke="#222" stroke-width="0.7"/>
<line x1="390.00" y1="92.48" x2="391.50" y2="92.48" stroke="#222" stroke-width="0.7"/>
<line x1="390.00" y1="89.24" x2="391.50" y2="89.24" stroke="#222" stroke-width="0.7"/>
<line x1="390.00" y1="86.00" x2="391.50" y2="86.00" stroke="#222" stroke-width="0.7"/>
<line x1="390.00" y1="82.76" x2="391.50" y2="82.76" stroke="#222" stroke-width="0.7"/>
<line x1="390.00" y1="79.52" x2="391.50" y2="79.52" stroke="#222" stroke-width="0.7"/>
<line x1="390.00" y1="76.28" x2="391.50" y2="76.28" stroke="#222" stroke-width="0.7"/>
<line x1="390.00" y1="73.04" x2="391.50" y2="73.04" stroke="#222" stroke-width="0.7"/>
<line x1="388.90" y1="69.80" x2="391.50" y2="69.80" stroke="#222" stroke-width="0.7"/>
<line x1="390.00" y1="66.56" x2="391.50" y2="66.56" stroke="#222" stroke-width="0.7"/>
<line x1="390.00" y1="63.32" x2="391.50" y2="63.32" stroke="#222" stroke-width="0.7"/>
<line x1="390.00" y1="60.08" x2="391.50" y2="60.08" stroke="#222" stroke-width="0.7"/>
<line x1="390.00" y1="56.84" x2="391.50" y2="56.84" stroke="#222" stroke-width="0.7"/>
<line x1="390.00" y1="53.60" x2="391.50" y2="53.60" stroke="#222" stroke-width="0.7"/>
<line x1="390.00" y1="50.36" x2="391.50" y2="50.36" stroke="#222" stroke-width="0.7"/>
<line x1="390.00" y1="47.12" x2="391.50" y2="47.12" stroke="#222" stroke-width="0.7"/>
<line x1="390.00" y1="43.88" x2="391.50" y2="43.88" stroke="#222" stroke-width="0.7"/>
<line x1="390.00" y1="40.64" x2="391.50" y2="40.64" stroke="#222" stroke-width="0.7"/>
<line x1="388.90" y1="37.40" x2="391.50" y2="37.40" stroke="#222" stroke-width="0.7"/>
<line x1="390.00" y1="34.16" x2="391.50" y2="34.16" stroke="#222" stroke-width="0.7"/>
<line x1="390.00" y1="30.92" x2="391.50" y2="30.92" stroke="#222" stroke-width="0.7"/>
<line x1="390.00" y1="27.68" x2="391.50" y2="27.68" stroke="#222" stroke-width="0.7"/>
<line x1="390.00" y1="24.44" x2="391.50" y2="24.44" stroke="#222" stroke-width="0.7"/>
<text x="388.20" y="39.40" font-size="5.9" font-weight="bold" text-anchor="end" fill="#111" stroke="#111" stroke-width="0.2">100</text>
<text x="388.20" y="71.80" font-size="5.9" font-weight="bold" text-anchor="end" fill="#111" stroke="#111" stroke-width="0.2">50</text>
<text x="388.20" y="104.20" font-size="5.9" font-weight="bold" text-anchor="end" fill="#111" stroke="#111" stroke-width="0.2">0</text>
<line x1="391.50" y1="102.50" x2="391.50" y2="105.10" stroke="#222" stroke-width="0.8"/>
<text x="391.50" y="113.30" font-size="5.9" font-weight="bold" text-anchor="middle" fill="#111" stroke="#111" stroke-width="0.2">−10</text>
<line x1="430.90" y1="102.50" x2="430.90" y2="105.10" stroke="#222" stroke-width="0.8"/>
<text x="430.90" y="113.30" font-size="5.9" font-weight="bold" text-anchor="middle" fill="#111" stroke="#111" stroke-width="0.2">−8</text>
<line x1="470.30" y1="102.50" x2="470.30" y2="105.10" stroke="#222" stroke-width="0.8"/>
<text x="470.30" y="113.30" font-size="5.9" font-weight="bold" text-anchor="middle" fill="#111" stroke="#111" stroke-width="0.2">−6</text>
<line x1="509.70" y1="102.50" x2="509.70" y2="105.10" stroke="#222" stroke-width="0.8"/>
<text x="509.70" y="113.30" font-size="5.9" font-weight="bold" text-anchor="middle" fill="#111" stroke="#111" stroke-width="0.2">−4</text>
<text x="457.10" y="121.70" font-size="6.5" font-weight="bold" text-anchor="middle" fill="#111" stroke="#111" stroke-width="0.2">Log[OTX015] (mol/L)</text>
<text x="374.30" y="62.00" font-size="6.5" font-weight="bold" text-anchor="middle" fill="#111" stroke="#111" stroke-width="0.2" transform="rotate(-90 374.3 62.0)">Luminescence</text>
<path d="M391.50,36.81 L392.81,36.82 L394.13,36.84 L395.44,36.85 L396.76,36.87 L398.07,36.89 L399.39,36.92 L400.70,36.95 L402.02,36.98 L403.33,37.02 L404.65,37.07 L405.96,37.13 L407.28,37.20 L408.59,37.29 L409.91,37.38 L411.22,37.50 L412.54,37.63 L413.85,37.79 L415.17,37.98 L416.48,38.20 L417.80,38.45 L419.11,38.75 L420.43,39.10 L421.74,39.51 L423.06,39.99 L424.37,40.54 L425.69,41.17 L427.00,41.90 L428.32,42.74 L429.63,43.68 L430.95,44.75 L432.26,45.95 L433.58,47.28 L434.89,48.75 L436.21,50.35 L437.52,52.08 L438.84,53.92 L440.15,55.85 L441.47,57.86 L442.78,59.92 L444.10,62.00 L445.41,64.07 L446.73,66.10 L448.04,68.07 L449.36,69.95 L450.67,71.72 L451.99,73.38 L453.30,74.90 L454.62,76.28 L455.93,77.53 L457.25,78.65 L458.56,79.65 L459.88,80.53 L461.19,81.30 L462.51,81.97 L463.82,82.55 L465.14,83.06 L466.45,83.49 L467.77,83.86 L469.08,84.18 L470.40,84.46 L471.71,84.69 L473.03,84.89 L474.34,85.06 L475.66,85.20 L476.97,85.33 L478.29,85.43 L479.60,85.52 L480.92,85.59 L482.23,85.65 L483.55,85.71 L484.86,85.75 L486.18,85.79 L487.49,85.82 L488.81,85.85 L490.12,85.87 L491.44,85.89 L492.75,85.91 L494.07,85.92 L495.38,85.94 L496.70,85.95" fill="none" stroke="#d9a060" stroke-width="0.8"/>
<path d="M391.50,34.81 L392.81,34.81 L394.13,34.81 L395.44,34.81 L396.76,34.81 L398.07,34.81 L399.39,34.81 L400.70,34.81 L402.02,34.81 L403.33,34.81 L404.65,34.82 L405.96,34.82 L407.28,34.82 L408.59,34.82 L409.91,34.83 L411.22,34.83 L412.54,34.84 L413.85,34.84 L415.17,34.85 L416.48,34.86 L417.80,34.88 L419.11,34.89 L420.43,34.92 L421.74,34.94 L423.06,34.97 L424.37,35.01 L425.69,35.06 L427.00,35.12 L428.32,35.20 L429.63,35.29 L430.95,35.40 L432.26,35.54 L433.58,35.72 L434.89,35.93 L436.21,36.19 L437.52,36.52 L438.84,36.91 L440.15,37.39 L441.47,37.98 L442.78,38.68 L444.10,39.53 L445.41,40.55 L446.73,41.75 L448.04,43.16 L449.36,44.80 L450.67,46.67 L451.99,48.79 L453.30,51.14 L454.62,53.70 L455.93,56.43 L457.25,59.29 L458.56,62.21 L459.88,65.13 L461.19,67.97 L462.51,70.68 L463.82,73.22 L465.14,75.54 L466.45,77.63 L467.77,79.47 L469.08,81.08 L470.40,82.46 L471.71,83.64 L473.03,84.63 L474.34,85.46 L475.66,86.15 L476.97,86.72 L478.29,87.19 L479.60,87.58 L480.92,87.89 L482.23,88.15 L483.55,88.35 L484.86,88.52 L486.18,88.66 L487.49,88.77 L488.81,88.86 L490.12,88.93 L491.44,88.99 L492.75,89.04 L494.07,89.08 L495.38,89.11 L496.70,89.14" fill="none" stroke="#40a040" stroke-width="0.8"/>
<path d="M391.50,37.40 L392.81,37.40 L394.13,37.40 L395.44,37.40 L396.76,37.40 L398.07,37.41 L399.39,37.41 L400.70,37.41 L402.02,37.41 L403.33,37.41 L404.65,37.41 L405.96,37.42 L407.28,37.42 L408.59,37.43 L409.91,37.43 L411.22,37.44 L412.54,37.45 L413.85,37.46 L415.17,37.47 L416.48,37.49 L417.80,37.51 L419.11,37.53 L420.43,37.56 L421.74,37.59 L423.06,37.64 L424.37,37.69 L425.69,37.75 L427.00,37.83 L428.32,37.92 L429.63,38.03 L430.95,38.17 L432.26,38.34 L433.58,38.54 L434.89,38.79 L436.21,39.09 L437.52,39.45 L438.84,39.89 L440.15,40.41 L441.47,41.03 L442.78,41.78 L444.10,42.66 L445.41,43.70 L446.73,44.92 L448.04,46.34 L449.36,47.96 L450.67,49.81 L451.99,51.89 L453.30,54.19 L454.62,56.70 L455.93,59.40 L457.25,62.24 L458.56,65.17 L459.88,68.14 L461.19,71.10 L462.51,73.98 L463.82,76.73 L465.14,79.32 L466.45,81.70 L467.77,83.86 L469.08,85.79 L470.40,87.50 L471.71,88.99 L473.03,90.28 L474.34,91.39 L475.66,92.33 L476.97,93.12 L478.29,93.79 L479.60,94.35 L480.92,94.81 L482.23,95.20 L483.55,95.52 L484.86,95.78 L486.18,96.00 L487.49,96.18 L488.81,96.33 L490.12,96.46 L491.44,96.56 L492.75,96.64 L494.07,96.71 L495.38,96.76 L496.70,96.81" fill="none" stroke="#2233cc" stroke-width="0.8"/>
<path d="M391.50,37.40 L392.81,37.40 L394.13,37.40 L395.44,37.40 L396.76,37.40 L398.07,37.41 L399.39,37.41 L400.70,37.41 L402.02,37.41 L403.33,37.41 L404.65,37.41 L405.96,37.42 L407.28,37.42 L408.59,37.43 L409.91,37.43 L411.22,37.44 L412.54,37.45 L413.85,37.46 L415.17,37.48 L416.48,37.50 L417.80,37.52 L419.11,37.54 L420.43,37.58 L421.74,37.62 L423.06,37.67 L424.37,37.73 L425.69,37.80 L427.00,37.90 L428.32,38.01 L429.63,38.15 L430.95,38.32 L432.26,38.53 L433.58,38.78 L434.89,39.09 L436.21,39.47 L437.52,39.93 L438.84,40.48 L440.15,41.15 L441.47,41.95 L442.78,42.90 L444.10,44.03 L445.41,45.37 L446.73,46.92 L448.04,48.71 L449.36,50.75 L450.67,53.05 L451.99,55.59 L453.30,58.36 L454.62,61.31 L455.93,64.41 L457.25,67.58 L458.56,70.77 L459.88,73.90 L461.19,76.92 L462.51,79.76 L463.82,82.39 L465.14,84.78 L466.45,86.91 L467.77,88.80 L469.08,90.44 L470.40,91.85 L471.71,93.06 L473.03,94.07 L474.34,94.93 L475.66,95.64 L476.97,96.24 L478.29,96.73 L479.60,97.14 L480.92,97.47 L482.23,97.74 L483.55,97.97 L484.86,98.15 L486.18,98.30 L487.49,98.42 L488.81,98.52 L490.12,98.60 L491.44,98.67 L492.75,98.72 L494.07,98.77 L495.38,98.80 L496.70,98.83" fill="none" stroke="#444" stroke-width="0.8"/>
<line x1="430.90" y1="32.22" x2="430.90" y2="42.58" stroke="#7a80d0" stroke-width="0.5"/>
<line x1="429.70" y1="32.22" x2="432.10" y2="32.22" stroke="#7a80d0" stroke-width="0.5"/>
<line x1="429.70" y1="42.58" x2="432.10" y2="42.58" stroke="#7a80d0" stroke-width="0.5"/>
<line x1="440.30" y1="35.65" x2="440.30" y2="46.02" stroke="#7a80d0" stroke-width="0.5"/>
<line x1="439.10" y1="35.65" x2="441.50" y2="35.65" stroke="#7a80d0" stroke-width="0.5"/>
<line x1="439.10" y1="46.02" x2="441.50" y2="46.02" stroke="#7a80d0" stroke-width="0.5"/>
<line x1="449.69" y1="47.12" x2="449.69" y2="57.49" stroke="#7a80d0" stroke-width="0.5"/>
<line x1="448.49" y1="47.12" x2="450.89" y2="47.12" stroke="#7a80d0" stroke-width="0.5"/>
<line x1="448.49" y1="57.49" x2="450.89" y2="57.49" stroke="#7a80d0" stroke-width="0.5"/>
<rect x="389.40" y="35.30" width="4.20" height="4.20" fill="#c07828" stroke="none" stroke-width="0.7"/>
<rect x="428.80" y="42.62" width="4.20" height="4.20" fill="#c07828" stroke="none" stroke-width="0.7"/>
<rect x="438.20" y="53.44" width="4.20" height="4.20" fill="#c07828" stroke="none" stroke-width="0.7"/>
<rect x="447.59" y="70.49" width="4.20" height="4.20" fill="#c07828" stroke="none" stroke-width="0.7"/>
<rect x="456.99" y="75.22" width="4.20" height="4.20" fill="#c07828" stroke="none" stroke-width="0.7"/>
<rect x="466.39" y="78.72" width="4.20" height="4.20" fill="#c07828" stroke="none" stroke-width="0.7"/>
<rect x="475.78" y="80.98" width="4.20" height="4.20" fill="#c07828" stroke="none" stroke-width="0.7"/>
<rect x="485.18" y="83.12" width="4.20" height="4.20" fill="#c07828" stroke="none" stroke-width="0.7"/>
<rect x="494.58" y="86.17" width="4.20" height="4.20" fill="#c07828" stroke="none" stroke-width="0.7"/>
<path d="M391.50,40.05 L394.03,35.28 L388.97,35.28Z" fill="#2aa02a" stroke="none" stroke-width="0.7"/>
<path d="M430.90,36.16 L433.43,31.40 L428.37,31.40Z" fill="#2aa02a" stroke="none" stroke-width="0.7"/>
<path d="M440.30,41.34 L442.83,36.58 L437.77,36.58Z" fill="#2aa02a" stroke="none" stroke-width="0.7"/>
<path d="M449.69,48.66 L452.22,43.90 L447.16,43.90Z" fill="#2aa02a" stroke="none" stroke-width="0.7"/>
<path d="M459.09,64.67 L461.62,59.91 L456.56,59.91Z" fill="#2aa02a" stroke="none" stroke-width="0.7"/>
<path d="M468.49,83.46 L471.02,78.70 L465.96,78.70Z" fill="#2aa02a" stroke="none" stroke-width="0.7"/>
<path d="M477.88,89.94 L480.41,85.18 L475.35,85.18Z" fill="#2aa02a" stroke="none" stroke-width="0.7"/>
<path d="M487.28,92.27 L489.81,87.51 L484.75,87.51Z" fill="#2aa02a" stroke="none" stroke-width="0.7"/>
<path d="M496.68,91.24 L499.21,86.48 L494.15,86.48Z" fill="#2aa02a" stroke="none" stroke-width="0.7"/>
<path d="M391.50,34.99 L393.81,39.33 L389.19,39.33Z" fill="#111" stroke="none" stroke-width="0.7"/>
<path d="M430.90,35.63 L433.21,39.98 L428.59,39.98Z" fill="#111" stroke="none" stroke-width="0.7"/>
<path d="M440.30,38.87 L442.61,43.22 L437.99,43.22Z" fill="#111" stroke="none" stroke-width="0.7"/>
<path d="M449.69,59.09 L452.00,63.44 L447.38,63.44Z" fill="#111" stroke="none" stroke-width="0.7"/>
<path d="M459.09,69.98 L461.40,74.32 L456.78,74.32Z" fill="#111" stroke="none" stroke-width="0.7"/>
<path d="M468.49,88.90 L470.80,93.25 L466.18,93.25Z" fill="#111" stroke="none" stroke-width="0.7"/>
<path d="M477.88,93.69 L480.19,98.04 L475.57,98.04Z" fill="#111" stroke="none" stroke-width="0.7"/>
<path d="M487.28,95.90 L489.59,100.24 L484.97,100.24Z" fill="#111" stroke="none" stroke-width="0.7"/>
<path d="M496.68,96.22 L498.99,100.57 L494.37,100.57Z" fill="#111" stroke="none" stroke-width="0.7"/>
<circle cx="391.50" cy="37.40" r="2.3" fill="#1818c0" stroke="none" stroke-width="0.7"/>
<circle cx="430.90" cy="37.40" r="2.3" fill="#1818c0" stroke="none" stroke-width="0.7"/>
<circle cx="440.30" cy="40.83" r="2.3" fill="#1818c0" stroke="none" stroke-width="0.7"/>
<circle cx="449.69" cy="52.30" r="2.3" fill="#1818c0" stroke="none" stroke-width="0.7"/>
<circle cx="459.09" cy="69.15" r="2.3" fill="#1818c0" stroke="none" stroke-width="0.7"/>
<circle cx="468.49" cy="86.00" r="2.3" fill="#1818c0" stroke="none" stroke-width="0.7"/>
<circle cx="477.88" cy="92.22" r="2.3" fill="#1818c0" stroke="none" stroke-width="0.7"/>
<circle cx="487.28" cy="94.81" r="2.3" fill="#1818c0" stroke="none" stroke-width="0.7"/>
<circle cx="496.68" cy="96.63" r="2.3" fill="#1818c0" stroke="none" stroke-width="0.7"/>
<line x1="467.00" y1="23.60" x2="476.20" y2="23.60" stroke="#5560d0" stroke-width="0.8"/>
<circle cx="471.60" cy="23.60" r="1.9" fill="#1818c0" stroke="none" stroke-width="0.7"/>
<text x="480.60" y="25.90" font-size="6.5" text-anchor="start" fill="#111" stroke="#111" stroke-width="0.14">PER-403</text>
<line x1="467.00" y1="33.80" x2="476.20" y2="33.80" stroke="#999" stroke-width="0.8"/>
<path d="M471.60,31.61 L473.69,35.55 L469.51,35.55Z" fill="#111" stroke="none" stroke-width="0.7"/>
<text x="480.60" y="36.10" font-size="6.5" text-anchor="start" fill="#111" stroke="#111" stroke-width="0.14">TC-797</text>
<line x1="467.00" y1="43.40" x2="476.20" y2="43.40" stroke="#90d090" stroke-width="0.8"/>
<path d="M471.60,45.59 L473.69,41.65 L469.51,41.65Z" fill="#2aa02a" stroke="none" stroke-width="0.7"/>
<text x="480.60" y="45.70" font-size="6.5" text-anchor="start" fill="#111" stroke="#111" stroke-width="0.14">10-15</text>
<line x1="467.00" y1="53.00" x2="476.20" y2="53.00" stroke="#e0b080" stroke-width="0.8"/>
<rect x="469.70" y="51.10" width="3.80" height="3.80" fill="#c8782a" stroke="none" stroke-width="0.7"/>
<text x="480.60" y="55.30" font-size="6.5" text-anchor="start" fill="#111" stroke="#111" stroke-width="0.14">293T</text>
<text x="84.10" y="163.40" font-size="6.5" text-anchor="middle" fill="#1a1a1a" stroke="#1a1a1a" stroke-width="0.14">OTX015 (72 h)</text>
<line x1="46.30" y1="257.00" x2="155.40" y2="257.00" stroke="#e4e4e4" stroke-width="0.8"/>
<text x="39.90" y="259.20" font-size="6.3" text-anchor="end" fill="#222" stroke="#222" stroke-width="0.14">0.0E+00</text>
<line x1="46.30" y1="248.47" x2="155.40" y2="248.47" stroke="#e4e4e4" stroke-width="0.8"/>
<text x="39.90" y="250.67" font-size="6.3" text-anchor="end" fill="#222" stroke="#222" stroke-width="0.14">5.0E-08</text>
<line x1="46.30" y1="239.94" x2="155.40" y2="239.94" stroke="#e4e4e4" stroke-width="0.8"/>
<text x="39.90" y="242.14" font-size="6.3" text-anchor="end" fill="#222" stroke="#222" stroke-width="0.14">1.0E-07</text>
<line x1="46.30" y1="231.41" x2="155.40" y2="231.41" stroke="#e4e4e4" stroke-width="0.8"/>
<text x="39.90" y="233.61" font-size="6.3" text-anchor="end" fill="#222" stroke="#222" stroke-width="0.14">1.5E-07</text>
<line x1="46.30" y1="222.88" x2="155.40" y2="222.88" stroke="#e4e4e4" stroke-width="0.8"/>
<text x="39.90" y="225.08" font-size="6.3" text-anchor="end" fill="#222" stroke="#222" stroke-width="0.14">2.0E-07</text>
<line x1="46.30" y1="214.35" x2="155.40" y2="214.35" stroke="#e4e4e4" stroke-width="0.8"/>
<text x="39.90" y="216.55" font-size="6.3" text-anchor="end" fill="#222" stroke="#222" stroke-width="0.14">2.5E-07</text>
<line x1="46.30" y1="205.82" x2="155.40" y2="205.82" stroke="#e4e4e4" stroke-width="0.8"/>
<text x="39.90" y="208.02" font-size="6.3" text-anchor="end" fill="#222" stroke="#222" stroke-width="0.14">3.0E-07</text>
<line x1="46.30" y1="197.29" x2="155.40" y2="197.29" stroke="#e4e4e4" stroke-width="0.8"/>
<text x="39.90" y="199.49" font-size="6.3" text-anchor="end" fill="#222" stroke="#222" stroke-width="0.14">3.5E-07</text>
<line x1="46.30" y1="188.76" x2="155.40" y2="188.76" stroke="#e4e4e4" stroke-width="0.8"/>
<text x="39.90" y="190.96" font-size="6.3" text-anchor="end" fill="#222" stroke="#222" stroke-width="0.14">4.0E-07</text>
<line x1="46.30" y1="180.23" x2="155.40" y2="180.23" stroke="#e4e4e4" stroke-width="0.8"/>
<text x="39.90" y="182.43" font-size="6.3" text-anchor="end" fill="#222" stroke="#222" stroke-width="0.14">4.5E-07</text>
<line x1="46.30" y1="171.70" x2="155.40" y2="171.70" stroke="#e4e4e4" stroke-width="0.8"/>
<text x="39.90" y="173.90" font-size="6.3" text-anchor="end" fill="#222" stroke="#222" stroke-width="0.14">5.0E-07</text>
<rect x="52.30" y="230.20" width="15.20" height="26.80" fill="#4472c4" stroke="none" stroke-width="1"/>
<line x1="59.90" y1="220.90" x2="59.90" y2="230.20" stroke="#505050" stroke-width="0.75"/>
<line x1="59.90" y1="230.20" x2="59.90" y2="239.50" stroke="#34589a" stroke-width="0.75"/>
<line x1="58.60" y1="220.90" x2="61.20" y2="220.90" stroke="#505050" stroke-width="0.7"/>
<rect x="80.40" y="229.00" width="14.50" height="28.00" fill="#4472c4" stroke="none" stroke-width="1"/>
<line x1="87.65" y1="217.00" x2="87.65" y2="229.00" stroke="#505050" stroke-width="0.75"/>
<line x1="87.65" y1="229.00" x2="87.65" y2="241.00" stroke="#34589a" stroke-width="0.75"/>
<line x1="86.35" y1="217.00" x2="88.95" y2="217.00" stroke="#505050" stroke-width="0.7"/>
<rect x="107.60" y="216.90" width="14.90" height="40.10" fill="#4472c4" stroke="none" stroke-width="1"/>
<line x1="115.05" y1="209.80" x2="115.05" y2="216.90" stroke="#505050" stroke-width="0.75"/>
<line x1="115.05" y1="216.90" x2="115.05" y2="224.00" stroke="#34589a" stroke-width="0.75"/>
<line x1="113.75" y1="209.80" x2="116.35" y2="209.80" stroke="#505050" stroke-width="0.7"/>
<rect x="135.20" y="203.00" width="15.10" height="54.00" fill="#4472c4" stroke="none" stroke-width="1"/>
<line x1="142.75" y1="178.40" x2="142.75" y2="203.00" stroke="#505050" stroke-width="0.75"/>
<line x1="142.75" y1="203.00" x2="142.75" y2="227.60" stroke="#34589a" stroke-width="0.75"/>
<line x1="141.45" y1="178.40" x2="144.05" y2="178.40" stroke="#505050" stroke-width="0.7"/>
<text x="59.90" y="266.90" font-size="6.3" text-anchor="middle" fill="#1a1a1a" stroke="#1a1a1a" stroke-width="0.14">PER-403</text>
<text x="87.60" y="266.90" font-size="6.3" text-anchor="middle" fill="#1a1a1a" stroke="#1a1a1a" stroke-width="0.14">TC-797</text>
<text x="115.00" y="266.90" font-size="6.3" text-anchor="middle" fill="#1a1a1a" stroke="#1a1a1a" stroke-width="0.14">10-15</text>
<text x="142.80" y="266.90" font-size="6.3" text-anchor="middle" fill="#1a1a1a" stroke="#1a1a1a" stroke-width="0.14">293T</text>
<text x="85.70" y="278.70" font-size="6.3" text-anchor="middle" fill="#1a1a1a" stroke="#1a1a1a" stroke-width="0.14">Cell line</text>
<text x="13.50" y="211.80" font-size="6.5" text-anchor="middle" fill="#1a1a1a" stroke="#1a1a1a" stroke-width="0.14" transform="rotate(-90 13.5 211.8)">IC<tspan font-size="4.0" dy="1.5">50</tspan><tspan dy="-1.5"> (mol/L)</tspan></text>
<line x1="189.60" y1="142.40" x2="189.60" y2="267.10" stroke="#444" stroke-width="0.9"/>
<line x1="189.20" y1="266.70" x2="337.80" y2="266.70" stroke="#444" stroke-width="0.9"/>
<line x1="189.60" y1="235.62" x2="191.10" y2="235.62" stroke="#444" stroke-width="0.6"/>
<line x1="189.60" y1="204.55" x2="191.10" y2="204.55" stroke="#444" stroke-width="0.6"/>
<line x1="189.60" y1="173.47" x2="191.10" y2="173.47" stroke="#444" stroke-width="0.6"/>
<line x1="189.60" y1="142.40" x2="191.10" y2="142.40" stroke="#444" stroke-width="0.6"/>
<line x1="204.75" y1="266.70" x2="204.75" y2="265.20" stroke="#444" stroke-width="0.6"/>
<line x1="219.50" y1="266.70" x2="219.50" y2="265.20" stroke="#444" stroke-width="0.6"/>
<line x1="234.25" y1="266.70" x2="234.25" y2="265.20" stroke="#444" stroke-width="0.6"/>
<line x1="249.00" y1="266.70" x2="249.00" y2="265.20" stroke="#444" stroke-width="0.6"/>
<line x1="263.75" y1="266.70" x2="263.75" y2="265.20" stroke="#444" stroke-width="0.6"/>
<line x1="278.50" y1="266.70" x2="278.50" y2="265.20" stroke="#444" stroke-width="0.6"/>
<line x1="293.25" y1="266.70" x2="293.25" y2="265.20" stroke="#444" stroke-width="0.6"/>
<line x1="308.00" y1="266.70" x2="308.00" y2="265.20" stroke="#444" stroke-width="0.6"/>
<line x1="322.75" y1="266.70" x2="322.75" y2="265.20" stroke="#444" stroke-width="0.6"/>
<line x1="337.50" y1="266.70" x2="337.50" y2="265.20" stroke="#444" stroke-width="0.6"/>
<line x1="190.10" y1="204.55" x2="337.80" y2="204.55" stroke="#b8b8b8" stroke-width="1.2"/>
<text x="186.00" y="146.40" font-size="6.0" text-anchor="middle" fill="#1a1a1a" stroke="#1a1a1a" stroke-width="0.14">2</text>
<text x="186.00" y="267.30" font-size="6.0" text-anchor="middle" fill="#1a1a1a" stroke="#1a1a1a" stroke-width="0.14">0</text>
<text x="191.20" y="275.80" font-size="6.0" text-anchor="middle" fill="#1a1a1a" stroke="#1a1a1a" stroke-width="0.14">0</text>
<text x="263.75" y="275.50" font-size="6.0" text-anchor="middle" fill="#1a1a1a" stroke="#1a1a1a" stroke-width="0.14">0.5</text>
<text x="337.50" y="275.50" font-size="6.0" text-anchor="middle" fill="#1a1a1a" stroke="#1a1a1a" stroke-width="0.14">1</text>
<text x="253.50" y="282.40" font-size="6.5" text-anchor="middle" fill="#1a1a1a" stroke="#1a1a1a" stroke-width="0.14">Fraction effected (Fa)</text>
<line x1="354.60" y1="142.40" x2="354.60" y2="267.10" stroke="#444" stroke-width="0.9"/>
<line x1="354.20" y1="266.70" x2="503.50" y2="266.70" stroke="#444" stroke-width="0.9"/>
<line x1="354.60" y1="235.62" x2="356.10" y2="235.62" stroke="#444" stroke-width="0.6"/>
<line x1="354.60" y1="204.55" x2="356.10" y2="204.55" stroke="#444" stroke-width="0.6"/>
<line x1="354.60" y1="173.47" x2="356.10" y2="173.47" stroke="#444" stroke-width="0.6"/>
<line x1="354.60" y1="142.40" x2="356.10" y2="142.40" stroke="#444" stroke-width="0.6"/>
<line x1="369.75" y1="266.70" x2="369.75" y2="265.20" stroke="#444" stroke-width="0.6"/>
<line x1="384.70" y1="266.70" x2="384.70" y2="265.20" stroke="#444" stroke-width="0.6"/>
<line x1="399.65" y1="266.70" x2="399.65" y2="265.20" stroke="#444" stroke-width="0.6"/>
<line x1="414.60" y1="266.70" x2="414.60" y2="265.20" stroke="#444" stroke-width="0.6"/>
<line x1="429.55" y1="266.70" x2="429.55" y2="265.20" stroke="#444" stroke-width="0.6"/>
<line x1="444.50" y1="266.70" x2="444.50" y2="265.20" stroke="#444" stroke-width="0.6"/>
<line x1="459.45" y1="266.70" x2="459.45" y2="265.20" stroke="#444" stroke-width="0.6"/>
<line x1="474.40" y1="266.70" x2="474.40" y2="265.20" stroke="#444" stroke-width="0.6"/>
<line x1="489.35" y1="266.70" x2="489.35" y2="265.20" stroke="#444" stroke-width="0.6"/>
<line x1="504.30" y1="266.70" x2="504.30" y2="265.20" stroke="#444" stroke-width="0.6"/>
<line x1="355.10" y1="204.55" x2="503.50" y2="204.55" stroke="#b8b8b8" stroke-width="1.2"/>
<text x="351.00" y="146.40" font-size="6.0" text-anchor="middle" fill="#1a1a1a" stroke="#1a1a1a" stroke-width="0.14">2</text>
<text x="351.00" y="267.30" font-size="6.0" text-anchor="middle" fill="#1a1a1a" stroke="#1a1a1a" stroke-width="0.14">0</text>
<text x="356.00" y="275.80" font-size="6.0" text-anchor="middle" fill="#1a1a1a" stroke="#1a1a1a" stroke-width="0.14">0</text>
<text x="429.55" y="275.50" font-size="6.0" text-anchor="middle" fill="#1a1a1a" stroke="#1a1a1a" stroke-width="0.14">0.5</text>
<text x="504.30" y="275.50" font-size="6.0" text-anchor="middle" fill="#1a1a1a" stroke="#1a1a1a" stroke-width="0.14">1</text>
<text x="414.70" y="282.40" font-size="6.5" text-anchor="middle" fill="#1a1a1a" stroke="#1a1a1a" stroke-width="0.14">Fraction effected (Fa)</text>
<text x="235.40" y="143.80" font-size="6.6" text-anchor="middle" fill="#222" stroke="#222" stroke-width="0.14">PER-403 (72 h)</text>
<text x="411.00" y="143.40" font-size="6.6" text-anchor="middle" fill="#222" stroke="#222" stroke-width="0.14">TC-797 (72 h)</text>
<text x="182.30" y="190.80" font-size="6.55" text-anchor="middle" fill="#222" stroke="#222" stroke-width="0.14" transform="rotate(-90 182.3 190.8)">Combination index (CI)</text>
<text x="345.20" y="198.80" font-size="6.3" text-anchor="middle" fill="#222" stroke="#222" stroke-width="0.14">CI</text>
<text x="509.60" y="172.90" font-size="6.6" text-anchor="middle" fill="#222" stroke="#222" stroke-width="0.14" transform="rotate(-90 509.6 172.9)">Antagonism</text>
<text x="510.40" y="225.50" font-size="6.6" text-anchor="middle" fill="#222" stroke="#222" stroke-width="0.14" transform="rotate(-90 510.4 225.5)">Synergy</text>
<rect x="287.20" y="143.40" width="52.10" height="36.90" fill="#fff" stroke="#555" stroke-width="0.8"/>
<circle cx="294.60" cy="149.00" r="1.9" fill="none" stroke="#4a4ac0" stroke-width="0.7"/>
<text x="303.30" y="151.00" font-size="5.6" text-anchor="start" fill="#111" stroke="#111" stroke-width="0.14">15% OTX</text>
<rect x="292.70" y="155.60" width="3.80" height="3.80" fill="none" stroke="#dd4a40" stroke-width="0.7"/>
<text x="303.30" y="159.50" font-size="5.6" text-anchor="start" fill="#111" stroke="#111" stroke-width="0.14">30% OTX</text>
<path d="M294.60,163.51 L296.69,167.45 L292.51,167.45Z" fill="none" stroke="#55c455" stroke-width="0.7"/>
<text x="303.30" y="167.70" font-size="5.6" text-anchor="start" fill="#111" stroke="#111" stroke-width="0.14">15% GNE</text>
<path d="M294.60,175.38 L296.69,171.45 L292.51,171.45Z" fill="none" stroke="#c83cc8" stroke-width="0.7"/>
<text x="303.30" y="175.20" font-size="5.6" text-anchor="start" fill="#111" stroke="#111" stroke-width="0.14">30% GNE</text>
<rect x="444.40" y="142.40" width="52.30" height="36.80" fill="#fff" stroke="#555" stroke-width="0.8"/>
<circle cx="451.90" cy="148.20" r="1.9" fill="none" stroke="#4a4ac0" stroke-width="0.7"/>
<text x="461.20" y="150.20" font-size="5.6" text-anchor="start" fill="#111" stroke="#111" stroke-width="0.14">15% GNE</text>
<rect x="450.00" y="154.50" width="3.80" height="3.80" fill="none" stroke="#dd4a40" stroke-width="0.7"/>
<text x="461.20" y="158.40" font-size="5.6" text-anchor="start" fill="#111" stroke="#111" stroke-width="0.14">30% GNE</text>
<path d="M451.90,161.72 L453.99,165.65 L449.81,165.65Z" fill="none" stroke="#55c455" stroke-width="0.7"/>
<text x="461.20" y="165.90" font-size="5.6" text-anchor="start" fill="#111" stroke="#111" stroke-width="0.14">15% OTX</text>
<path d="M451.90,174.38 L453.99,170.45 L449.81,170.45Z" fill="none" stroke="#c83cc8" stroke-width="0.7"/>
<text x="461.20" y="174.20" font-size="5.6" text-anchor="start" fill="#111" stroke="#111" stroke-width="0.14">30% OTX</text>
<path d="M202.20,215.71 L204.67,220.37 L199.72,220.37Z" fill="none" stroke="#55c455" stroke-width="1.0"/>
<path d="M197.30,221.61 L199.78,226.27 L194.83,226.27Z" fill="none" stroke="#55c455" stroke-width="1.0"/>
<path d="M214.80,218.81 L217.28,223.47 L212.33,223.47Z" fill="none" stroke="#55c455" stroke-width="1.0"/>
<path d="M236.60,224.11 L239.07,228.77 L234.12,228.77Z" fill="none" stroke="#55c455" stroke-width="1.0"/>
<path d="M245.00,202.01 L247.47,206.67 L242.53,206.67Z" fill="none" stroke="#55c455" stroke-width="1.0"/>
<path d="M288.20,225.61 L290.68,230.27 L285.72,230.27Z" fill="none" stroke="#55c455" stroke-width="1.0"/>
<path d="M312.20,231.01 L314.68,235.67 L309.72,235.67Z" fill="none" stroke="#55c455" stroke-width="1.0"/>
<path d="M320.10,220.71 L322.58,225.37 L317.62,225.37Z" fill="none" stroke="#55c455" stroke-width="1.0"/>
<path d="M209.60,253.49 L212.07,248.83 L207.12,248.83Z" fill="none" stroke="#c83cc8" stroke-width="1.0"/>
<path d="M237.60,248.59 L240.07,243.93 L235.12,243.93Z" fill="none" stroke="#c83cc8" stroke-width="1.0"/>
<path d="M248.20,239.59 L250.67,234.93 L245.72,234.93Z" fill="none" stroke="#c83cc8" stroke-width="1.0"/>
<path d="M261.80,228.59 L264.28,223.93 L259.32,223.93Z" fill="none" stroke="#c83cc8" stroke-width="1.0"/>
<path d="M299.70,241.79 L302.18,237.13 L297.22,237.13Z" fill="none" stroke="#c83cc8" stroke-width="1.0"/>
<path d="M325.00,236.19 L327.48,231.53 L322.52,231.53Z" fill="none" stroke="#c83cc8" stroke-width="1.0"/>
<path d="M320.10,246.69 L322.58,242.03 L317.62,242.03Z" fill="none" stroke="#c83cc8" stroke-width="1.0"/>
<rect x="222.75" y="224.85" width="4.50" height="4.50" fill="none" stroke="#dd4a40" stroke-width="1.0"/>
<rect x="219.55" y="229.05" width="4.50" height="4.50" fill="none" stroke="#dd4a40" stroke-width="1.0"/>
<rect x="223.15" y="240.65" width="4.50" height="4.50" fill="none" stroke="#dd4a40" stroke-width="1.0"/>
<rect x="229.05" y="245.95" width="4.50" height="4.50" fill="none" stroke="#dd4a40" stroke-width="1.0"/>
<rect x="231.15" y="247.35" width="4.50" height="4.50" fill="none" stroke="#dd4a40" stroke-width="1.0"/>
<circle cx="218.70" cy="238.70" r="2.25" fill="none" stroke="#4a4ac0" stroke-width="1.0"/>
<circle cx="223.50" cy="235.50" r="2.25" fill="none" stroke="#4a4ac0" stroke-width="1.0"/>
<circle cx="232.80" cy="239.70" r="2.25" fill="none" stroke="#4a4ac0" stroke-width="1.0"/>
<circle cx="224.00" cy="253.80" r="2.25" fill="none" stroke="#4a4ac0" stroke-width="1.0"/>
<circle cx="230.30" cy="255.50" r="2.25" fill="none" stroke="#4a4ac0" stroke-width="1.0"/>
<circle cx="225.60" cy="243.30" r="2.25" fill="none" stroke="#4a4ac0" stroke-width="1.0"/>
<circle cx="225.40" cy="243.50" r="1.3" fill="none" stroke="#dd4a40" stroke-width="1.0"/>
<circle cx="222.80" cy="254.00" r="1.3" fill="none" stroke="#dd4a40" stroke-width="1.0"/>
<path d="M372.80,144.71 L375.28,149.37 L370.32,149.37Z" fill="none" stroke="#55c455" stroke-width="1.0"/>
<path d="M377.50,175.01 L379.98,179.67 L375.02,179.67Z" fill="none" stroke="#55c455" stroke-width="1.0"/>
<path d="M369.00,179.91 L371.48,184.57 L366.52,184.57Z" fill="none" stroke="#55c455" stroke-width="1.0"/>
<path d="M373.40,183.11 L375.88,187.77 L370.92,187.77Z" fill="none" stroke="#55c455" stroke-width="1.0"/>
<path d="M384.00,185.71 L386.48,190.37 L381.52,190.37Z" fill="none" stroke="#55c455" stroke-width="1.0"/>
<path d="M373.40,207.11 L375.88,211.77 L370.92,211.77Z" fill="none" stroke="#55c455" stroke-width="1.0"/>
<path d="M376.90,216.41 L379.38,221.07 L374.42,221.07Z" fill="none" stroke="#55c455" stroke-width="1.0"/>
<path d="M388.00,216.39 L390.48,211.73 L385.52,211.73Z" fill="none" stroke="#c83cc8" stroke-width="1.0"/>
<path d="M390.10,219.89 L392.58,215.23 L387.62,215.23Z" fill="none" stroke="#c83cc8" stroke-width="1.0"/>
<path d="M392.70,223.39 L395.18,218.73 L390.22,218.73Z" fill="none" stroke="#c83cc8" stroke-width="1.0"/>
<path d="M395.40,228.29 L397.88,223.63 L392.92,223.63Z" fill="none" stroke="#c83cc8" stroke-width="1.0"/>
<path d="M399.70,232.19 L402.18,227.53 L397.22,227.53Z" fill="none" stroke="#c83cc8" stroke-width="1.0"/>
<path d="M401.00,235.69 L403.48,231.03 L398.52,231.03Z" fill="none" stroke="#c83cc8" stroke-width="1.0"/>
<path d="M405.00,239.19 L407.48,234.53 L402.52,234.53Z" fill="none" stroke="#c83cc8" stroke-width="1.0"/>
<rect x="399.25" y="222.05" width="4.50" height="4.50" fill="none" stroke="#dd4a40" stroke-width="1.0"/>
<rect x="391.75" y="237.45" width="4.50" height="4.50" fill="none" stroke="#dd4a40" stroke-width="1.0"/>
<rect x="378.15" y="240.45" width="4.50" height="4.50" fill="none" stroke="#dd4a40" stroke-width="1.0"/>
<rect x="419.25" y="217.65" width="4.50" height="4.50" fill="none" stroke="#dd4a40" stroke-width="1.0"/>
<rect x="489.35" y="216.95" width="4.50" height="4.50" fill="none" stroke="#dd4a40" stroke-width="1.0"/>
<rect x="487.25" y="235.95" width="4.50" height="4.50" fill="none" stroke="#dd4a40" stroke-width="1.0"/>
<rect x="471.45" y="246.45" width="4.50" height="4.50" fill="none" stroke="#dd4a40" stroke-width="1.0"/>
<rect x="481.35" y="242.85" width="4.50" height="4.50" fill="none" stroke="#dd4a40" stroke-width="1.0"/>
<circle cx="370.80" cy="180.40" r="2.25" fill="none" stroke="#4a4ac0" stroke-width="1.0"/>
<circle cx="394.00" cy="212.00" r="2.25" fill="none" stroke="#4a4ac0" stroke-width="1.0"/>
<circle cx="384.50" cy="246.20" r="2.25" fill="none" stroke="#4a4ac0" stroke-width="1.0"/>
<circle cx="456.80" cy="232.90" r="2.25" fill="none" stroke="#4a4ac0" stroke-width="1.0"/>
<circle cx="487.80" cy="202.40" r="2.25" fill="none" stroke="#4a4ac0" stroke-width="1.0"/>
<circle cx="487.80" cy="233.90" r="2.25" fill="none" stroke="#4a4ac0" stroke-width="1.0"/>
<circle cx="482.70" cy="243.80" r="2.25" fill="none" stroke="#4a4ac0" stroke-width="1.0"/>
</svg>
</body></html>
